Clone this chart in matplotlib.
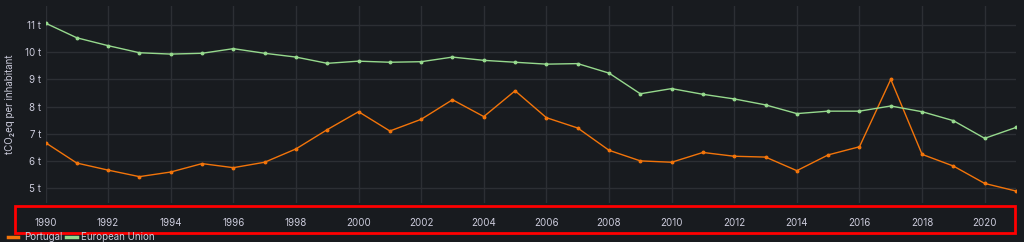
import matplotlib.pyplot as plt
from matplotlib.patches import Rectangle
from matplotlib.lines import Line2D

years = list(range(1990, 2022))
portugal = [6.67, 5.92, 5.66, 5.42, 5.59, 5.90, 5.75, 5.95, 6.44, 7.15,
            7.81, 7.10, 7.53, 8.25, 7.63, 8.58, 7.59, 7.21, 6.39, 6.00,
            5.95, 6.31, 6.17, 6.14, 5.64, 6.22, 6.52, 9.00, 6.24, 5.81,
            5.17, 4.89]
eu = [11.07, 10.53, 10.24, 9.98, 9.93, 9.96, 10.13, 9.96, 9.82, 9.59,
      9.67, 9.63, 9.65, 9.82, 9.70, 9.63, 9.56, 9.58, 9.23, 8.47,
      8.66, 8.45, 8.28, 8.06, 7.74, 7.83, 7.83, 8.02, 7.81, 7.48,
      6.83, 7.23]
series_names = ["Portugal", "European Union"]
yticks = [5, 6, 7, 8, 9, 10, 11]
xticks = list(range(1990, 2021, 2))

bg = "#181b1f"
grid_c = "#2c2f34"
text_c = "#ccccdc"
orange = "#f2740a"
green = "#96d98d"

plt.rcParams["font.family"] = ["Inter", "DejaVu Sans"]

fig = plt.figure(figsize=(10.24, 2.42), dpi=100, facecolor=bg)
W, H = 1024, 242
ax = fig.add_axes([45.5 / W, 1 - 203 / H, (1016 - 45.5) / W, (203 - 6) / H])
ax.set_facecolor(bg)

ax.plot(years, portugal, color=orange, lw=1, marker="o", ms=1.8, zorder=3)
ax.plot(years, eu, color=green, lw=1, marker="o", ms=1.8, zorder=3)

ax.set_xlim(1990, 2021)
ax.set_ylim(4.45, 11.70)
ax.set_yticks(yticks)
ax.set_yticklabels([f"{v} t" for v in yticks])
ax.set_xticks(xticks)
ax.set_xticklabels([str(x) for x in xticks])
ax.grid(True, color=grid_c, lw=1)
ax.set_axisbelow(True)
for s in ax.spines.values():
    s.set_visible(False)
ax.tick_params(colors=text_c, labelsize=7, length=0)
ax.tick_params(axis="x", pad=11)
ax.tick_params(axis="y", pad=3)
ax.set_ylabel("tCO₂eq per inhabitant", color=text_c, fontsize=7, labelpad=7)

# legend at bottom left (partly cut off)
fig.add_artist(Line2D([8 / W, 18 / W], [1 - 237 / H] * 2, color=orange, lw=2.5))
fig.text(24 / W, 1 - 237 / H, series_names[0], color=text_c, fontsize=7, va="center")
fig.add_artist(Line2D([66 / W, 77 / W], [1 - 237 / H] * 2, color=green, lw=2.5))
fig.text(81 / W, 1 - 237 / H, series_names[1], color=text_c, fontsize=7, va="center")

# red highlight box
fig.add_artist(Rectangle((15 / W, 1 - 233 / H), (1015 - 15) / W, (233 - 205.5) / H,
                         transform=fig.transFigure, fill=False, ec="#ff0000", lw=2))

fig.savefig("out.png", dpi=100, facecolor=bg)
